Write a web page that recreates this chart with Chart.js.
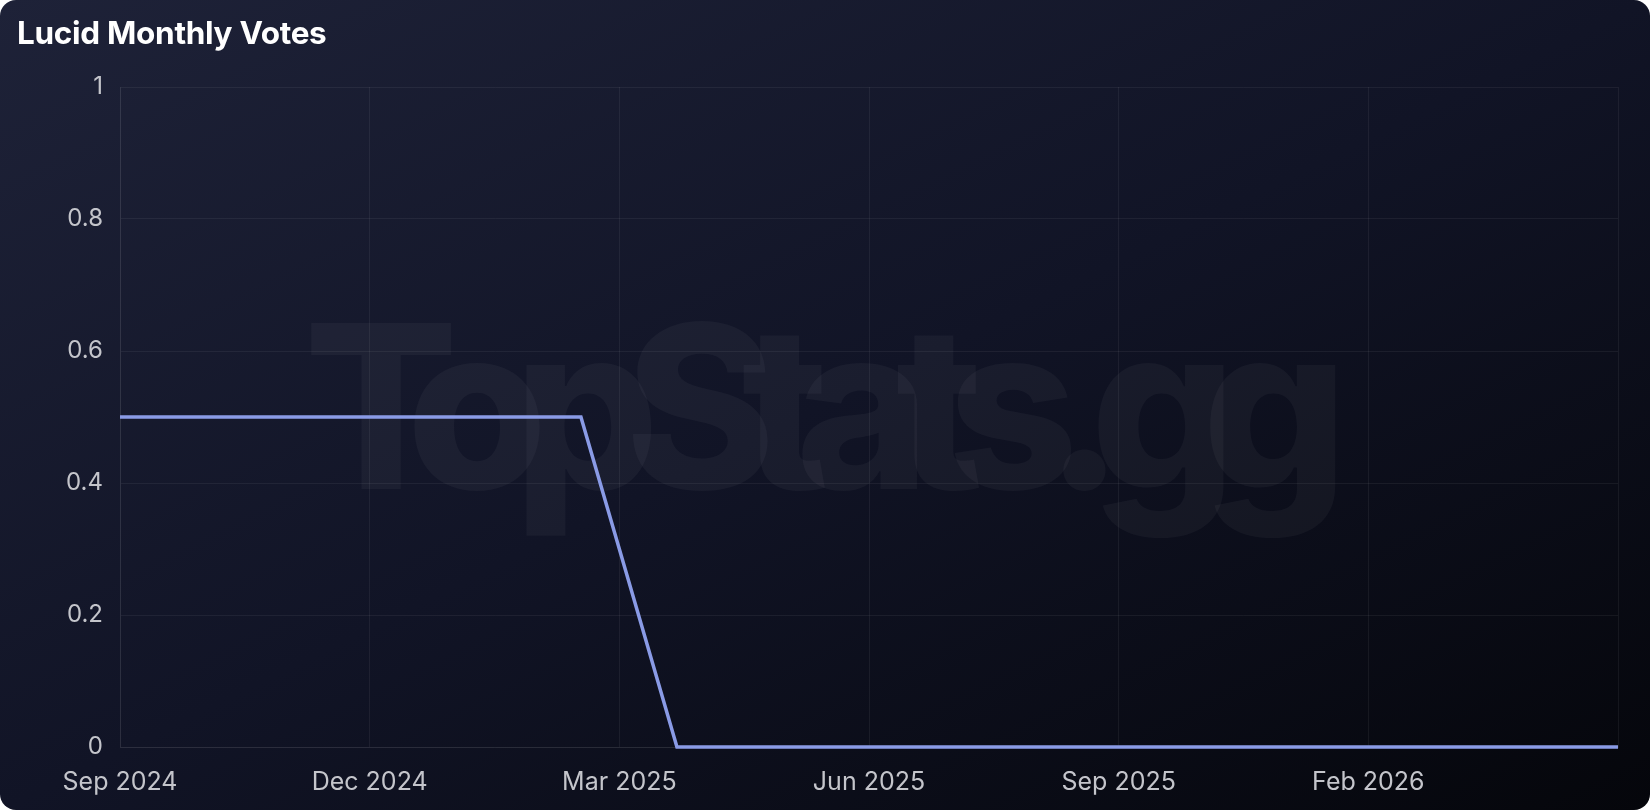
<!DOCTYPE html>
<html>
<head>
<meta charset="utf-8">
<title>Lucid Monthly Votes</title>
<script src="https://cdn.jsdelivr.net/npm/chart.js@4.4.1/dist/chart.umd.min.js"></script>
<style>
    html, body {
        margin: 0;
        padding: 0;
        background: #ffffff;
    }
    .card {
        position: relative;
        width: 1650px;
        height: 810px;
        border-radius: 16px;
        overflow: hidden;
        background: linear-gradient(to bottom right, #1e2238 0%, #111426 50%, #05060b 100%);
        font-family: Inter, "Noto Sans", sans-serif;
    }
    .card h1 {
        position: absolute;
        left: 17px;
        top: 13px;
        margin: 0;
        font-size: 31.5px;
        font-weight: 700;
        color: #ffffff;
        letter-spacing: -0.3px;
        z-index: 3;
    }
    .watermark {
        position: absolute;
        left: -16px;
        width: 1650px;
        top: 262px;
        text-align: center;
        font-size: 228px;
        line-height: 288px;
        font-weight: 800;
        letter-spacing: -34px;
        color: rgba(255, 255, 255, 0.04);
        z-index: 1;
        user-select: none;
    }
    .chart-box {
        position: absolute;
        left: 0;
        top: 0;
        width: 1650px;
        height: 810px;
        z-index: 2;
    }
</style>
</head>
<body>

<div class="card">
    <h1>Lucid Monthly Votes</h1>
    <div class="watermark">TopStats.gg</div>
    <div class="chart-box">
        <canvas id="votesChart" width="1650" height="810"></canvas>
    </div>
</div>

<script>
// tick labels shown along the bottom, one every 13 data slots
const tickLabels = ['Sep 2024', 'Dec 2024', 'Mar 2025', 'Jun 2025', 'Sep 2025', 'Feb 2026', ''];
const tickStep = 13;

// positions of the data points on the x axis (slot index) and the votes there
const pointSlots = [0, 24, 29, 78];
const monthlyVotes = [0.5, 0.5, 0, 0];

const yTicks = [0, 0.2, 0.4, 0.6, 0.8, 1];


document.addEventListener('DOMContentLoaded', function() {
    const ctx = document.getElementById('votesChart').getContext('2d');

    const points = pointSlots.map((slot, i) => ({ x: slot, y: monthlyVotes[i] }));

    new Chart(ctx, {
        type: 'line',
        data: {
            datasets: [{
                label: 'Votes',
                data: points,
                borderColor: '#8a9be6',
                borderWidth: 3.5,
                pointRadius: 0,
                tension: 0,
                fill: false,
                clip: 6
            }]
        },
        options: {
            responsive: false,
            animation: false,
            layout: {
                padding: { top: 87, right: 32, bottom: 0, left: 0 }
            },
            plugins: {
                legend: { display: false },
                tooltip: { enabled: false }
            },
            scales: {
                x: {
                    type: 'linear',
                    min: pointSlots[0],
                    max: pointSlots[pointSlots.length - 1],
                    afterFit: s => { s.height = 63; },
                    afterBuildTicks: s => {
                        s.ticks = tickLabels.map((_, i) => ({ value: i * tickStep }));
                    },
                    grid: {
                        color: 'rgba(255, 255, 255, 0.06)',
                        drawTicks: false
                    },
                    border: { color: 'rgba(255, 255, 255, 0.06)' },
                    ticks: {
                        color: '#c4c5cb',
                        padding: 20,
                        maxRotation: 0,
                        autoSkip: false,
                        font: { family: 'Inter', size: 25 },
                        callback: v => tickLabels[Math.round(v / tickStep)]
                    }
                },
                y: {
                    min: yTicks[0],
                    max: yTicks[yTicks.length - 1],
                    afterFit: s => { s.width = 120; },
                    afterBuildTicks: s => {
                        s.ticks = yTicks.map(v => ({ value: v }));
                    },
                    grid: {
                        color: 'rgba(255, 255, 255, 0.06)',
                        drawTicks: false
                    },
                    border: { color: 'rgba(255, 255, 255, 0.06)' },
                    ticks: {
                        color: '#c4c5cb',
                        padding: 17,
                        font: { family: 'Inter', size: 24 },
                        callback: v => String(Number(v.toFixed(2)))
                    }
                }
            }
        }
    });
});
</script>
</body>
</html>
